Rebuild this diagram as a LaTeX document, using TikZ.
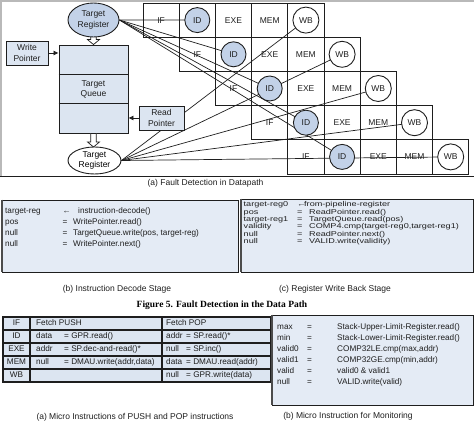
\documentclass[tikz,border=0pt]{standalone}
\usepackage{fontspec}
\setmainfont{Liberation Sans}
\newfontfamily\serifbf{Liberation Serif}
\newfontfamily\widesans[FakeStretch=1.3]{Liberation Sans}
\usetikzlibrary{calc,arrows.meta,shapes.geometric}
\definecolor{blfill}{HTML}{C3D2E8}
\definecolor{bxfill}{HTML}{DCE5F1}
\definecolor{pnfill}{HTML}{E4EBF5}
\definecolor{ln}{HTML}{1E1E1E}
\newcommand\hollowarrow[2]{%
  \draw[ln, line width=0.7pt, fill=white, line join=miter]
    ($(#1)+(-2.8,0)$) -- ($(#2)+(-2.8,-5)$) -- ($(#2)+(-6,-5)$) -- (#2)
    -- ($(#2)+(6,-5)$) -- ($(#2)+(2.8,-5)$) -- ($(#1)+(2.8,0)$) -- cycle;}
\begin{document}
\begin{tikzpicture}[x=1pt,y=-1pt,
  fa/.style={font=\fontsize{8.5}{10.5}\selectfont, text=ln},
  gridln/.style={draw=ln, line width=0.8pt},
  conn/.style={draw=ln, line width=0.7pt},
  gtxt/.style={fa, inner sep=0pt},
  idcirc/.style={circle, draw=ln, line width=0.9pt, fill=blfill, minimum size=25pt, inner sep=0pt, fa},
  wbcirc/.style={circle, draw=ln, line width=0.9pt, fill=white, minimum size=26pt, inner sep=0pt, fa},
  bx/.style={rectangle, draw=ln, line width=0.9pt, fill=bxfill, inner sep=0pt, align=center, fa},
  panel/.style={rectangle, draw=ln, line width=0.9pt, fill=pnfill, inner sep=0pt},
  tx/.style={anchor=west, inner sep=0pt, text=ln, font=\fontsize{8.2}{9}\selectfont, text height=6pt, text depth=1.8pt},
  txm/.style={inner sep=0pt, text=ln, font=\fontsize{8.2}{9}\selectfont, text height=6pt, text depth=1.8pt},
  txc/.style={anchor=west, inner sep=0pt, text=ln, font=\widesans\fontsize{7}{8}\selectfont, text height=5pt, text depth=1.5pt},
  captxt/.style={inner sep=0pt, text=ln, font=\fontsize{8.5}{9.5}\selectfont},
  tcell/.style={draw=ln, line width=1.1pt, fill=bxfill}
]
\useasboundingbox (0,0) rectangle (474,430);

% ---------- panel (a) frame
\draw[gray!55, line width=1.2pt] (1,176) |- (474,1);
\draw[ln, line width=0.8pt] (0,176) -- (474,176);

% ---------- pipeline grid
\foreach \r in {0,...,4}{
  \foreach \k in {0,...,4}{
    \pgfmathsetmacro\xa{143+36.2*(\r+\k)}
    \pgfmathsetmacro\ya{3+34.2*\r}
    \draw[gridln] (\xa,\ya) rectangle ++(36.2,34.2);
  }
  \pgfmathsetmacro\yc{20.1+34.2*\r}
  \node[gtxt] (if\r) at ({143+36.2*(\r+0.5)},\yc) {IF};
  \coordinate (idc\r) at ({143+36.2*(\r+1.5)},\yc);
  \node[gtxt] (exe\r) at ({143+36.2*(\r+2.5)},\yc) {EXE};
  \node[gtxt] (mem\r) at ({143+36.2*(\r+3.5)},\yc) {MEM};
  \coordinate (wbc\r) at ({143+36.2*(\r+4.5)},\yc);
}

% ---------- left side blocks
\node[bx, minimum width=69pt, minimum height=88pt] (tq) at (93.5,89) {};
\draw[gridln] ($(tq.north west)+(0,30)$) -- ($(tq.north east)+(0,30)$);
\draw[gridln] ($(tq.north west)+(0,59)$) -- ($(tq.north east)+(0,59)$);
\node[fa, align=center, inner sep=0pt] (tqlab) at (93.5,89.5) {Target\\Queue};

% hollow arrows (drawn before the ellipses so that these cover the shaft ends)
\coordinate (ha1) at (93.5,31);
\coordinate (hb1) at (ha1 |- tq.north);
\hollowarrow{ha1}{hb1}
\coordinate (ha2) at (tq.south);
\coordinate (hb2) at (93.5,147);
\hollowarrow{ha2}{hb2}

\node[ellipse, draw=ln, line width=0.9pt, fill=blfill, minimum width=51pt, minimum height=34pt, inner sep=0pt, align=center, fa] (tr) at (93.5,20) {Target\\Register};
\node[bx, minimum width=42pt, minimum height=24pt] (wp) at (27,53) {Write\\Pointer};
\draw[conn, -{Latex[length=5pt,width=5pt]}] (wp.east) -- (wp.east -| tq.west);
\node[ellipse, draw=ln, line width=0.9pt, fill=white, minimum width=53pt, minimum height=27pt, inner sep=0pt, align=center, font=\fontsize{8.5}{10}\selectfont] (br) at (94.5,160.5) {Target\\Register};

% ---------- connectors
\foreach \r in {0,...,4}{
  \draw[conn] (tr.east) -- (idc\r);
  \draw[conn] (br.east) -- (wbc\r);
}

% ---------- stage circles
\foreach \r in {0,...,4}{
  \node[idcirc] (id\r) at (idc\r) {ID};
  \node[wbcirc] (wb\r) at (wbc\r) {WB};
}

\node[bx, minimum width=45pt, minimum height=24pt] (rp) at (161.5,118) {Read\\Pointer};
\draw[conn, -{Latex[length=5pt,width=5pt]}] (rp.west) -- (rp.west -| tq.east);

\node[captxt] (capa) at (205.5,183) {(a) Fault Detection in Datapath};

% ---------- panel (b)
\node[panel, minimum width=236pt, minimum height=72pt] (pb) at (120,236) {};
\draw[line width=2pt, draw=gray!60!black] (pb.north west) -- (pb.south west);
\foreach \i/\l/\o/\e/\ex in {1/target-reg/←/{instruction-decode()}/78,
                             2/pos/=/{WritePointer.read()}/73,
                             3/null/=/{TargetQueue.write(pos, target-reg)}/73,
                             4/null/=/{WritePointer.next()}/73}{
  \pgfmathsetmacro\yc{211+11*(\i-1)}
  \node[tx] (pbl\i) at (5,\yc) {\l};
  \node[tx] (pbo\i) at (62.5,\yc) {\o};
  \node[tx] (pbe\i) at (\ex,\yc) {\e};
}
\node[captxt] (capb) at (117,289) {(b) Instruction Decode Stage};

% ---------- panel (c)
\node[panel, minimum width=232pt, minimum height=73pt] (pc) at (357,235.5) {};
\draw[line width=2pt, draw=gray!60!black] (pc.north west) -- (pc.south west);
\foreach \i/\l/\o/\e/\ex in {1/target-reg0/←/{from-pipeline-register}/304,
                             2/pos/=/{ReadPointer.read()}/309,
                             3/target-reg1/=/{TargetQueue.read(pos)}/309,
                             4/validity/=/{COMP4.cmp(target-reg0,target-reg1)}/309,
                             5/null/=/{ReadPointer.next()}/309,
                             6/null/=/{VALID.write(validity)}/309}{
  \pgfmathsetmacro\yc{205+7.4*(\i-1)}
  \node[txc] (pcl\i) at (243.5,\yc) {\l};
  \node[txc] (pco\i) at (297,\yc) {\o};
  \node[txc] (pce\i) at (\ex,\yc) {\e};
}
\node[captxt] (capc) at (335,289) {(c) Register Write Back Stage};

% ---------- figure caption
\node[inner sep=0pt, text=black, font=\serifbf\bfseries\fontsize{9.5}{11}\selectfont] (figcap) at (222,305) {Figure 5. Fault Detection in the Data Path};

% ---------- micro instruction table
\foreach \r in {0,...,4}{
  \pgfmathsetmacro\ya{317+13*\r}
  \draw[tcell] (3,\ya) rectangle (30,\ya+13);
  \draw[tcell] (30,\ya) rectangle (162,\ya+13);
  \draw[tcell] (162,\ya) rectangle (271,\ya+13);
}
\foreach \r/\st/\la/\ea/\lb/\eb in {0/IF/{Fetch PUSH}/{}/{Fetch POP}/{},
    1/ID/data/{= GPR.read()}/addr/{= SP.read()*},
    2/EXE/addr/{= SP.dec-and-read()*}/null/{= SP.inc()},
    3/MEM/null/{= DMAU.write(addr,data)}/data/{= DMAU.read(addr)},
    4/WB/{}/{}/null/{= GPR.write(data)}}{
  \pgfmathsetmacro\yc{323.5+13*\r}
  \node[txm] (ts\r) at (16.5,\yc) {\st};
  \node[tx] (tla\r) at (36,\yc) {\la};
  \node[tx] (tea\r) at (64,\yc) {\ea};
  \node[tx] (tlb\r) at (166,\yc) {\lb};
  \node[tx] (teb\r) at (186,\yc) {\eb};
}
\node[captxt] (capd) at (135,417) {(a) Micro Instructions of PUSH and POP instructions};

% ---------- monitoring box
\node[panel, minimum width=201pt, minimum height=90pt] (pm) at (372.5,360) {};
\draw[line width=2pt, draw=gray!60!black] (pm.north west) -- (pm.south west);
\foreach \i/\l/\e in {1/max/{Stack-Upper-Limit-Register.read()},
                      2/min/{Stack-Lower-Limit-Register.read()},
                      3/valid0/{COMP32LE.cmp(max,addr)},
                      4/valid1/{COMP32GE.cmp(min,addr)},
                      5/valid/{valid0 \& valid1},
                      6/null/{VALID.write(valid)}}{
  \pgfmathsetmacro\yc{327+11*(\i-1)}
  \node[tx] (pml\i) at (277,\yc) {\l};
  \node[tx] (pmo\i) at (307,\yc) {=};
  \node[tx] (pme\i) at (337,\yc) {\e};
}
\node[captxt] (cape) at (348,416) {(b) Micro Instruction for Monitoring};
\end{tikzpicture}
\end{document}
